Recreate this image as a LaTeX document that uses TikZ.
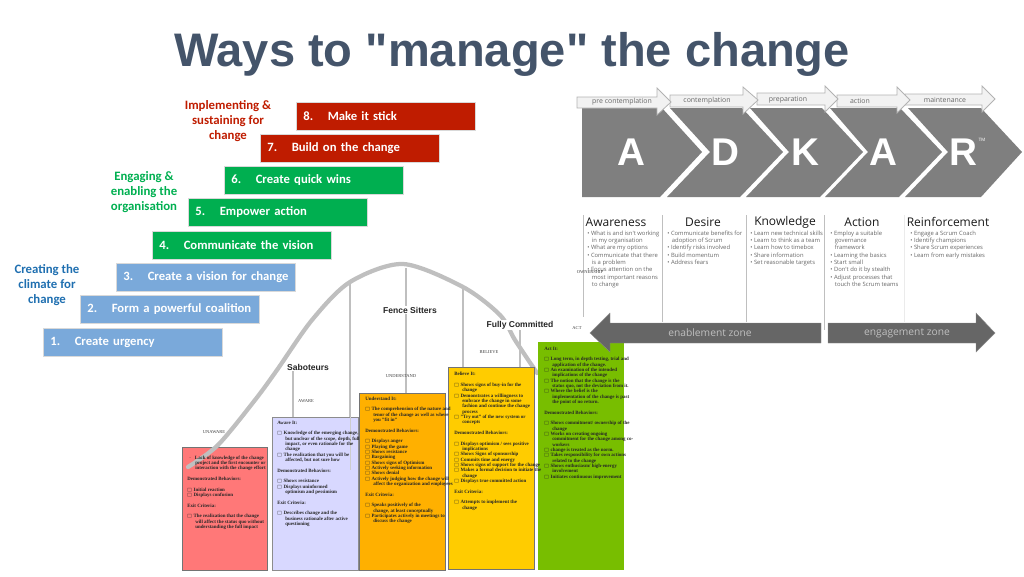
\documentclass[tikz,border=0pt]{standalone}
\usepackage{fontspec}
\setmainfont{Liberation Serif}
\newfontfamily\hdfont{Liberation Sans}
\newfontfamily\calfont{Carlito}
\newfontfamily\opfont{Open Sans}
\newfontfamily\djfont{DejaVu Sans}
\newcommand{\bx}{{\djfont\fontsize{3.6}{4}\selectfont □}\hspace{1.4pt}}
\newcommand{\cnt}{\hspace*{6pt}}
\newcommand{\gp}{\\[4pt]}
\definecolor{slatetitle}{HTML}{44546A}
\definecolor{barblue}{HTML}{7AA9DA}
\definecolor{bargreen}{HTML}{00AF50}
\definecolor{barred}{HTML}{BF1C00}
\definecolor{chev}{HTML}{7F7F7F}
\definecolor{darkarrow}{HTML}{666666}
\definecolor{boxred}{HTML}{FF7878}
\definecolor{boxlav}{HTML}{D8D8FF}
\definecolor{boxora}{HTML}{FFB000}
\definecolor{boxyel}{HTML}{FFCC00}
\definecolor{boxgre}{HTML}{78BE00}
\definecolor{lablue}{HTML}{1F6FB0}
\tikzset{
  stepbar/.style={draw=black!15,line width=0.5pt,anchor=north west,minimum width=134.5pt,minimum height=21pt,inner sep=0pt,
     text=white,font=\calfont\bfseries\fontsize{9.5}{11}\selectfont,align=left,text width=124pt,inner xsep=5pt},
  stagelab/.style={font=\calfont\bfseries\fontsize{9.6}{11.2}\selectfont,align=center},
  boxframe/.style={line width=0.6pt},
  boxtext/.style={anchor=north west,inner sep=0pt,align=left,font=\bfseries\fontsize{3.7}{4}\selectfont,text=black!85},
  vline/.style={draw=black!25,line width=1.1pt},
  curveline/.style={draw=black!25,line width=3.2pt,line cap=round},
  smalllab/.style={font=\fontsize{3.4}{4}\selectfont,text=black!75,inner sep=0.8pt},
  grouplab/.style={font=\hdfont\bfseries\fontsize{6.4}{7}\selectfont,text=black!85,inner sep=1pt,fill=white},
  chevron/.style={fill=chev,draw=none},
  letter/.style={font=\hdfont\bfseries\fontsize{29}{32}\selectfont,text=white,inner sep=0pt},
  toparrow/.style={fill=black!5,draw=black!30,line width=0.6pt},
  toplab/.style={font=\opfont\fontsize{5.2}{6}\selectfont,text=black!60,inner sep=0pt},
  colhead/.style={font=\opfont\fontsize{9}{10}\selectfont,text=black!90,inner sep=0pt},
  coltext/.style={anchor=north west,inner sep=0pt,align=left,font=\opfont\fontsize{4.4}{5.5}\selectfont,text=black!60},
  colline/.style={draw=black!25,line width=0.6pt},
  zonearrow/.style={fill=darkarrow,draw=black!45,line width=0.3pt},
  zonelab/.style={font=\opfont\fontsize{7.7}{9}\selectfont,text=black!25,inner sep=0pt},
}
\begin{document}
\begin{tikzpicture}[x=0.75pt,y=-0.75pt]
\useasboundingbox (0,0) rectangle (1024,576);
\node[font=\hdfont\bfseries\fontsize{35.3}{40}\selectfont,text=slatetitle,inner sep=0pt] (title) at (512,54) {Ways to "manage" the change};

% Kotter steps
\node[stepbar,fill=barred] (s8) at (296,102) {8.\hspace{11pt}Make it stick};
\node[stepbar,fill=barred] (s7) at (260,134) {7.\hspace{11pt}Build on the change};
\node[stepbar,fill=bargreen] (s6) at (224,166) {6.\hspace{11pt}Create quick wins};
\node[stepbar,fill=bargreen] (s5) at (188,198) {5.\hspace{11pt}Empower action};
\node[stepbar,fill=bargreen] (s4) at (152,231) {4.\hspace{11pt}Communicate the vision};
\node[stepbar,fill=barblue] (s3) at (116,263) {3.\hspace{11pt}Create a vision for change};
\node[stepbar,fill=barblue] (s2) at (80,295) {2.\hspace{11pt}Form a powerful coalition};
\node[stepbar,fill=barblue] (s1) at (43,328) {1.\hspace{11pt}Create urgency};
\node[stagelab,text=barred] (g3) at (228,121) {Implementing \&\\sustaining for\\change};
\node[stagelab,text=bargreen] (g2) at (144,192) {Engaging \&\\enabling the\\organisation};
\node[stagelab,text=lablue] (g1) at (47,285) {Creating the\\climate for\\change};

% change curve stages
\draw[vline] (293,370) -- (293,417);
\draw[vline] (350,282) -- (350,417);
\draw[vline] (406,268) -- (406,393);
\draw[vline] (463,287) -- (463,367);
\draw[vline] (520,325) -- (520,367);
\draw[boxframe,fill=boxred,draw=black!55] (182,447) rectangle (267,570);
\draw[curveline] plot[smooth] coordinates {(188,467) (218,445) (255,400) (277,370) (312,320) (350,282) (403,264) (463,287) (500,315) (515,340) (537,373)};
\draw[boxframe,fill=boxlav,draw=black!45] (272,417) rectangle (358,570);
\draw[black!20,line width=0.6pt] (350,417) -- (350,470);
\draw[boxframe,fill=boxora,draw=black!55] (359,393) rectangle (445,570);
\draw[boxframe,fill=boxyel,draw=black!55] (448,367) rectangle (534,569);
\fill[boxgre] (538,342) rectangle (624,570);

\node[boxtext] (redtxt) at (187,455.5) {\hspace*{1pt}$\cdot$\hspace{2.5pt}Lack of knowledge of the change\\\cnt project and the first encounter or\\\cnt interaction with the change effort\gp Demonstrated Behaviors:\gp \bx Initial reaction\\\bx Displays confusion\gp Exit Criteria:\gp \bx The realization that the change\\\cnt will affect the status quo without\\\cnt understanding the full impact};
\node[boxtext] (lavtxt) at (277,420.5) {Aware It:\gp \bx Knowledge of the emerging change,\\\cnt but unclear of the scope, depth, full\\\cnt impact, or even rationale for the\\\cnt change\\\bx The realization that you will be\\\cnt affected, but not sure how\gp Demonstrated Behaviors:\gp \bx Shows resistance\\\bx Displays uninformed\\\cnt optimism and pessimism\gp Exit Criteria:\gp \bx Describes change and the\\\cnt business rationale after active\\\cnt questioning};
\node[boxtext] (oratxt) at (365,396.5) {Understand It:\gp \bx The comprehension of the nature and\\\cnt tenor of the change as well as where\\\cnt you "fit in"\gp Demonstrated Behaviors:\gp \bx Displays anger\\\bx Playing the game\\\bx Shows resistance\\\bx Bargaining\\\bx Shows signs of Optimism\\\bx Actively seeking information\\\bx Shows denial\\\bx Actively judging how the change will\\\cnt affect the organization and employees\gp Exit Criteria:\gp \bx Speaks positively of the\\\cnt change, at least conceptually\\\bx Participates actively in meetings to\\\cnt discuss the change};
\node[boxtext] (yeltxt) at (454,372) {Believe It:\gp \bx Shows signs of buy-in for the\\\cnt change\\\bx Demonstrates a willingness to\\\cnt embrace the change in some\\\cnt fashion and continue the change\\\cnt process\\\bx "Try out" of the new system or\\\cnt concepts\gp Demonstrated Behaviors:\gp \bx Displays optimism / sees positive\\\cnt implications\\\bx Shows Signs of sponsorship\\\bx Commits time and energy\\\bx Shows signs of support for the change\\\bx Makes a formal decision to initiate the\\\cnt change\\\bx Displays true committed action\gp Exit Criteria:\gp \bx Attempts to implement the\\\cnt change};
\node[boxtext] (gretxt) at (544,346.5) {Act It:\gp \bx Long term, in depth testing, trial and\\\cnt application of the change.\\\bx An examination of the intended\\\cnt implications of the change\\\bx The notion that the change is the\\\cnt status quo, not the deviation from it.\\\bx Where the belief is the\\\cnt implementation of the change is past\\\cnt the point of no return.\gp Demonstrated Behaviors:\gp \bx Shows commitment/ ownership of the\\\cnt change\\\bx Works on creating ongoing\\\cnt commitment for the change among co-\\\cnt workers\\\bx change is treated as the norm.\\\bx Takes responsibility for own actions\\\cnt related to the change\\\bx Shows enthusiasm/ high-energy\\\cnt involvement\\\bx Initiates continuous improvement};

\node[grouplab] (lab1) at (308,367) {Saboteurs};
\node[grouplab] (lab2) at (410,310) {Fence Sitters};
\node[grouplab] (lab3) at (520,325) {Fully Committed};
\node[smalllab] (sm1) at (214,432) {UNAWARE};
\node[smalllab] (sm2) at (306,401) {AWARE};
\node[smalllab] (sm3) at (401,376) {UNDERSTAND};
\node[smalllab] (sm4) at (489,352) {BELIEVE};
\node[smalllab] (sm5) at (577,328) {ACT};

% ADKAR
\fill[chevron] (582,108) -- (662,108) -- (702,152) -- (660,197) -- (582,197) -- cycle;
\fill[chevron] (670,108) -- (742,108) -- (783,152) -- (740,197) -- (667,197) -- (710,152) -- cycle;
\fill[chevron] (750,108) -- (822,108) -- (863,152) -- (820,197) -- (746,197) -- (789,152) -- cycle;
\fill[chevron] (830,108) -- (900,108) -- (942,152) -- (899,197) -- (825,197) -- (868,152) -- cycle;
\fill[chevron] (908,108) -- (981,108) -- (1022,152) -- (981,197) -- (905,197) -- (948,152) -- cycle;
\node[letter] (la) at (631,152) {A};
\node[letter] (ld) at (725,152) {D};
\node[letter] (lk) at (805,152) {K};
\node[letter] (lc) at (883,152) {A};
\node[letter] (lr) at (963,152) {R};
\node[text=white,font=\hdfont\fontsize{3.5}{4}\selectfont,inner sep=0pt] (tm) at (982,140) {TM};

\draw[toparrow] (905,94) -- (982,94) -- (982,86) -- (995,99) -- (982,112) -- (982,105) -- (905,105) -- cycle;
\draw[toparrow] (837,95) -- (897,95) -- (897,87) -- (910,100) -- (897,113) -- (897,107) -- (837,107) -- cycle;
\draw[toparrow] (757,93) -- (825,93) -- (825,86) -- (838,99) -- (825,112) -- (825,105) -- (757,105) -- cycle;
\draw[toparrow] (670,95) -- (743,95) -- (743,87) -- (758,100) -- (743,114) -- (743,107) -- (670,107) -- cycle;
\draw[toparrow] (577,97) -- (657,97) -- (657,88) -- (671,102) -- (657,115) -- (657,108) -- (577,108) -- cycle;
\node[toplab] (t1) at (622,101.5) {pre contemplation};
\node[toplab] (t2) at (707,100.5) {contemplation};
\node[toplab] (t3) at (788,99.5) {preparation};
\node[toplab] (t4) at (860,100.5) {action};
\node[toplab] (t5) at (945,99.5) {maintenance};

\draw[colline] (583,215) -- (583,317);
\draw[colline] (662,215) -- (662,322);
\draw[colline] (746,215) -- (746,322);
\draw[colline] (824,215) -- (824,330);
\draw[colline,draw=black!8] (904,215) -- (904,322);
\node[colhead] (h1) at (616,222) {Awareness};
\node[colhead] (h2) at (703,222) {Desire};
\node[colhead] (h3) at (785,222) {Knowledge};
\node[colhead] (h4) at (862,222) {Action};
\node[colhead] (h5) at (948,222) {Reinforcement};
\node[coltext] (c1) at (587,230.5) {• What is and isn't working\\\hspace*{3.5pt}in my organisation\\• What are my options\\• Communicate that there\\\hspace*{3.5pt}is a problem\\• Focus attention on the\\\hspace*{3.5pt}most important reasons\\\hspace*{3.5pt}to change};
\node[coltext] (c2) at (667,230.5) {• Communicate benefits for\\\hspace*{3.5pt}adoption of Scrum\\• Identify risks involved\\• Build momentum\\• Address fears};
\node[coltext] (c3) at (750,230.5) {• Learn new technical skills\\• Learn to think as a team\\• Learn how to timebox\\• Share information\\• Set reasonable targets};
\node[coltext] (c4) at (830,230.5) {• Employ a suitable\\\hspace*{3.5pt}governance\\\hspace*{3.5pt}framework\\• Learning the basics\\• Start small\\• Don't do it by stealth\\• Adjust processes that\\\hspace*{3.5pt}touch the Scrum teams};
\node[coltext] (c5) at (910,230.5) {• Engage a Scrum Coach\\• Identify champions\\• Share Scrum experiences\\• Learn from early mistakes};
\node[smalllab] (sm6) at (590,272) {OWNERSHIP};

\draw[zonearrow] (590,333) -- (610,313) -- (610,323) -- (821,323) -- (821,343) -- (610,343) -- (610,352) -- cycle;
\draw[zonearrow] (828,323) -- (976,323) -- (976,313) -- (995,333) -- (976,352) -- (976,343) -- (828,343) -- cycle;
\node[zonelab] (z1) at (710,333) {enablement zone};
\node[zonelab] (z2) at (907,333) {engagement zone};
\end{tikzpicture}
\end{document}
